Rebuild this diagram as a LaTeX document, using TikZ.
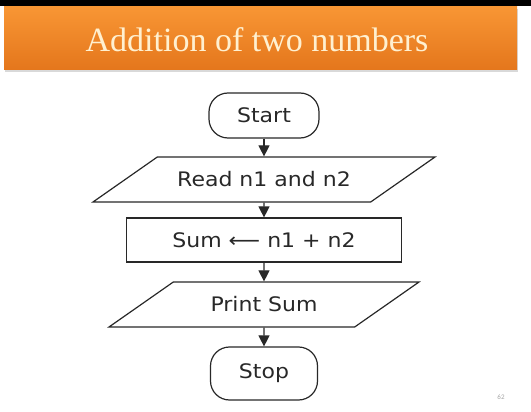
\documentclass[tikz,border=0pt]{standalone}
\usepackage{fontspec}
\usepackage{tikz}
\usetikzlibrary{shapes.geometric, arrows.meta}
\newfontfamily\flowfont[FakeStretch=1.1]{DejaVu Sans}
\newfontfamily\titlefont{Liberation Serif}
\newfontfamily\pagefont{Carlito}
\definecolor{lineclr}{RGB}{40,40,40}
\definecolor{bannertop}{RGB}{248,150,52}
\definecolor{bannerbot}{RGB}{228,118,28}
\definecolor{titleclr}{RGB}{255,240,208}
\tikzstyle{startstop} = [rectangle, rounded corners=19pt, minimum width=110pt, minimum height=45pt, text centered, draw=lineclr, line width=1.2pt, font=\flowfont\fontsize{20}{24}\selectfont, text=lineclr]
\tikzstyle{io} = [trapezium, trapezium left angle=19, trapezium right angle=161, trapezium stretches body, minimum height=45pt, text centered, draw=lineclr, line width=1.2pt, font=\flowfont\fontsize{20}{24}\selectfont, text=lineclr]
\tikzstyle{process} = [rectangle, minimum width=275pt, minimum height=44pt, text centered, draw=lineclr, line width=1.2pt, font=\flowfont\fontsize{20}{24}\selectfont, text=lineclr]
\tikzstyle{arrow} = [line width=1.2pt, draw=lineclr, -{Triangle[width=11pt,length=11pt]}]
\begin{document}
\begin{tikzpicture}[node distance=64pt]
    \useasboundingbox (0,0) rectangle (531pt,-412pt);
    \fill[white] (0,0) rectangle (531pt,-412pt);

    % banner
    \fill[black] (0,0) rectangle (531pt,-6pt);
    \fill[gray!30] (5pt,-9pt) rectangle (518pt,-72pt);
    \shade[top color=bannertop, bottom color=bannerbot] (4pt,-7pt) rectangle (517pt,-70pt);
    \node (title) [text=titleclr, font=\titlefont\fontsize{34}{40}\selectfont] at (257pt,-40pt) {Addition of two numbers};

    \node (start) [startstop] at (264pt,-115.5pt) {Start};
    \node (read) [io, minimum width=342pt, below of=start] {Read n1 and n2};
    \node (sum) [process, below of=read, yshift=3.5pt] {Sum ⟵ n1 + n2};
    \node (print) [io, minimum width=310pt, below of=sum, yshift=-0.5pt] {Print Sum};
    \node (stop) [startstop, minimum width=107pt, minimum height=53pt, below of=print, yshift=-5pt] {Stop};

    \draw [arrow] (start) -- (read);
    \draw [arrow] (read) -- (sum);
    \draw [arrow] (sum) -- (print);
    \draw [arrow] (print) -- (stop);

    \node (page) [text=gray!70, font=\pagefont\fontsize{7}{8}\selectfont] at (501pt,-397pt) {62};
\end{tikzpicture}
\end{document}
